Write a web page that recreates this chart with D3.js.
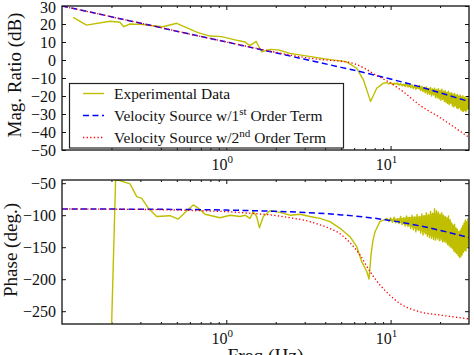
<!DOCTYPE html>
<html>
<head>
<meta charset="utf-8">
<script src="https://cdn.jsdelivr.net/npm/d3@7"></script>
<style>
  html, body { margin: 0; padding: 0; background: #fff; }
  svg { display: block; }
  text { font-family: "Liberation Serif", "Times New Roman", serif; fill: #111; }
</style>
</head>
<body>
<div id="chart"></div>
<script>
// ---------------- DATA ----------------
// Magnitude (dB) panel
const expMagFreq = [0.117, 0.141, 0.196, 0.225, 0.238, 0.259, 0.298, 0.412, 0.499, 0.673, 0.796, 0.937,
  1.18, 1.30, 1.39, 1.52, 1.64, 1.85, 2.07, 2.44, 4.28, 5.36, 6.22, 6.83, 7.55, 7.79, 8.23, 9.0];
const expMagVal = [23.7, 19.4, 21.5, 21.0, 18.5, 20.0, 19.8, 18.5, 20.4, 15.2, 13.3, 13.0,
  10.8, 10.0, 8.0, 10.3, 4.6, 5.9, 5.6, 3.7, 0.2, -0.9, -4.6, -11.0, -23.0, -20.4, -15.7, -13.0];

// Noisy high-frequency part of the experimental data (shared frequencies, Hz)
const noiseFreq = [9.5, 9.75, 10, 10.25, 10.5, 10.75, 11, 11.25,
  11.5, 11.75, 12, 12.25, 12.5, 12.75, 13, 13.25,
  13.5, 13.75, 14, 14.25, 14.5, 14.75, 15, 15.25,
  15.5, 15.75, 16, 16.25, 16.5, 16.75, 17, 17.25,
  17.5, 17.75, 18, 18.25, 18.5, 18.75, 19, 19.25,
  19.5, 19.75, 20, 20.25, 20.5, 20.75, 21, 21.25,
  21.5, 21.75, 22, 22.25, 22.5, 22.75, 23, 23.25,
  23.5, 23.75, 24, 24.25, 24.5, 24.75, 25, 25.25,
  25.5, 25.75, 26, 26.25, 26.5, 26.75, 27, 27.25,
  27.5, 27.75, 28, 28.25, 28.5, 28.75, 29, 29.25,
  29.5, 29.75, 30];
const noiseMag = [-12.5, -13.3, -12.6, -13.5, -12.9, -13.2, -12.7, -14.0,
  -13.1, -14.4, -13.4, -14.8, -13.0, -15.0, -13.9, -15.4,
  -13.8, -15.9, -14.2, -16.3, -14.6, -15.8, -14.1, -17.0,
  -14.5, -17.6, -15.3, -18.2, -14.9, -18.9, -15.8, -19.1,
  -15.2, -20.0, -16.1, -19.4, -15.6, -20.8, -16.4, -21.0,
  -15.9, -21.6, -16.8, -22.4, -16.2, -21.9, -17.3, -23.0,
  -17.0, -23.6, -17.9, -24.2, -17.4, -24.8, -18.5, -24.0,
  -18.2, -25.5, -19.0, -26.1, -18.6, -25.4, -19.5, -26.6,
  -19.2, -27.0, -20.1, -26.4, -19.4, -27.6, -20.5, -28.2,
  -19.9, -28.6, -20.8, -27.9, -20.2, -28.8, -21.4, -27.5,
  -21.0, -26.8, -22.5];
const noisePhase = [-105, -110, -104, -111, -103, -112, -105, -113,
  -102, -115, -104, -117, -101, -118, -103, -121,
  -100, -123, -103, -126, -99, -124, -102, -128,
  -98, -131, -101, -129, -96, -133, -99, -135,
  -94, -136, -97, -138, -90, -139, -93, -137,
  -95, -140, -98, -139, -96, -142, -100, -141,
  -102, -143, -104, -146, -101, -148, -107, -150,
  -112, -152, -116, -156, -114, -158, -120, -160,
  -122, -163, -126, -166, -124, -165, -120, -162,
  -116, -158, -112, -155, -108, -156, -110, -150,
  -106, -148, -118];

// Inner envelope of the dense noisy band (Hz, upper/lower values)
const bandFreq = [10, 11, 12, 13, 14, 15, 16, 17, 18, 19, 20, 21, 22, 23, 24, 25, 26, 27, 28, 29, 30];
const bandMagHi = [-12.7, -13.0, -13.4, -13.9, -14.3, -14.7, -15.2, -15.7, -16.0, -16.5, -16.9, -17.4,
  -17.9, -18.4, -18.9, -19.4, -19.8, -20.3, -20.6, -21.1, -21.8];
const bandMagLo = [-13.2, -13.7, -14.3, -14.9, -15.6, -16.4, -17.3, -18.2, -19.0, -19.9, -20.8, -21.6,
  -22.7, -23.4, -24.5, -25.2, -26.0, -26.8, -27.4, -27.2, -25.8];
const bandPhHi = [-106, -105, -104, -103, -102, -102, -100, -100, -97, -96, -99, -101, -105, -108,
  -115, -120, -126, -123, -115, -112, -117];
const bandPhLo = [-109, -111, -114, -117, -121, -124, -127, -131, -134, -135, -136, -138, -142, -146,
  -151, -156, -161, -160, -153, -150, -140];

const firstMagFreq = [0.1, 0.2, 0.5, 1, 2, 3, 5, 7, 10, 15, 20, 25, 30];
const firstMagVal  = [30, 24, 16, 10, 4, 0.4, -4.1, -7.1, -10.6, -14.8, -18.2, -20.9, -23];

const secondMagFreq = [0.1, 0.2, 0.5, 1, 2, 3, 4, 5, 6, 7, 8, 9, 10, 12, 15, 20, 25, 30];
const secondMagVal  = [30, 24, 16, 10, 4.3, 1.4, 0, -0.7, -2, -4.8, -8, -10.5, -12.8, -17.8, -25, -32, -38, -43];

// Phase (deg.) panel
const expPhFreq = [0.2, 0.212, 0.2596, 0.285, 0.306, 0.335, 0.377, 0.454, 0.510, 0.574, 0.630, 0.676,
  0.742, 0.916, 1.053, 1.211, 1.30, 1.394, 1.46, 1.53, 1.59, 1.68, 1.845, 2.12, 2.44, 2.81, 3.23,
  3.72, 4.28, 4.92, 5.66, 6.22, 6.67, 7.16, 7.39, 7.60, 7.79, 8.04, 8.61, 9.2];
const expPhVal = [-280, -44, -51, -71, -73.6, -89, -102, -100.8, -106, -93.4, -84, -89,
  -98.6, -104, -100, -102, -100, -105, -94.5, -102, -119.5, -102, -93, -95.5, -100, -98.6, -102,
  -105, -110, -120.5, -133.6, -149, -172.6, -188, -199.7, -162, -141, -125.8, -110, -107];

const firstPhFreq = [0.1, 0.5, 1, 2, 3, 5, 7, 10, 15, 20, 25, 30];
const firstPhVal  = [-90.3, -91, -92, -94, -95.7, -99.5, -103, -108.4, -116.6, -123.7, -129.8, -135];

const secondPhFreq = [0.1, 0.3, 0.6, 1, 1.4, 2, 2.44, 3, 3.72, 4.28, 4.92, 5.66, 6.51, 7.49, 8.61,
  9.91, 11.4, 15.1, 20, 30];
const secondPhVal  = [-90.3, -91, -92.5, -94.5, -97, -100.5, -104, -108, -115, -121, -129, -143,
  -162, -188, -209, -225, -238, -251, -256, -262];

// Axis ticks and labels
const magTicks = [30, 20, 10, 0, -10, -20, -30, -40, -50];
const phaseTicks = [-50, -100, -150, -200, -250];
const freqMajor = [1, 10];
const freqMajorExp = ["0", "1"];
const freqMinor = [0.2, 0.3, 0.4, 0.5, 0.6, 0.7, 0.8, 0.9, 2, 3, 4, 5, 6, 7, 8, 9, 20];
const legendLabels = [
  ["Experimental Data"],
  ["Velocity Source w/1", "st", " Order Term"],
  ["Velocity Source w/2", "nd", " Order Term"]
];
const magLabel = "Mag. Ratio (dB)";
const phaseLabel = "Phase (deg.)";
const freqLabel = "Freq (Hz)";

// ---------------- DRAWING ----------------
const W = 474, H = 355;
const X0 = 62, X1 = 469;
const topPanel = {y0: 6, y1: 150};
const botPanel = {y0: 180, y1: 324};
const YELLOW = "#bfbf00", BLUE = "#0000ff", RED = "#ff0000";

const svg = d3.select("#chart").append("svg").attr("width", W).attr("height", H);

const x = d3.scaleLog().domain([0.1, 30]).range([X0, X1]);
const yMag = d3.scaleLinear().domain([-50, 30]).range([topPanel.y1, topPanel.y0]);
const yPh = d3.scaleLinear().domain([-270, -45]).range([botPanel.y1, botPanel.y0]);

function zip(fs, vs) { return fs.map((f, i) => [f, vs[i]]); }

// scale a text's font size so that its rendered width matches a target
function fitWidth(sel, target) {
  const w = sel.node().getBBox().width;
  if (w > 0) {
    const k = target / w;
    sel.attr("font-size", +sel.attr("font-size") * k);
    sel.selectAll("tspan[font-size]").each(function () {
      const t = d3.select(this); t.attr("font-size", +t.attr("font-size") * k);
    });
  }
  return sel;
}

function panel(id, p, y, ticks) {
  const defs = svg.append("defs");
  defs.append("clipPath").attr("id", id).append("rect")
    .attr("x", X0).attr("y", p.y0).attr("width", X1 - X0).attr("height", p.y1 - p.y0);
  const g = svg.append("g");
  const la = g.append("g").attr("transform", `translate(${X0},0)`)
    .call(d3.axisLeft(y).tickValues(ticks).tickSize(-4).tickPadding(6));
  const ra = g.append("g").attr("transform", `translate(${X1},0)`)
    .call(d3.axisRight(y).tickValues(ticks).tickSize(-4).tickFormat(""));
  const bm = g.append("g").attr("transform", `translate(0,${p.y1})`)
    .call(d3.axisBottom(x).tickValues(freqMajor).tickSize(-4).tickFormat(""));
  const bn = g.append("g").attr("transform", `translate(0,${p.y1})`)
    .call(d3.axisBottom(x).tickValues(freqMinor).tickSize(-2).tickFormat(""));
  const tm = g.append("g").attr("transform", `translate(0,${p.y0})`)
    .call(d3.axisTop(x).tickValues(freqMajor).tickSize(-4).tickFormat(""));
  const tn = g.append("g").attr("transform", `translate(0,${p.y0})`)
    .call(d3.axisTop(x).tickValues(freqMinor).tickSize(-2).tickFormat(""));
  [la, ra, bm, bn, tm, tn].forEach(a => {
    a.select(".domain").remove();
    a.selectAll("line").attr("stroke", "#111").attr("stroke-width", 1);
  });
  la.selectAll("text").attr("font-size", 16).attr("font-family", "Liberation Serif").attr("fill", "#111")
    .attr("dy", d => (y(d) - p.y0 < 3 ? "0.42em" : "0.32em"));
  freqMajor.forEach((f, i) => {
    const t = g.append("text").attr("x", x(f) - 4).attr("y", p.y1 + 20)
      .attr("text-anchor", "middle").attr("font-size", 16);
    t.append("tspan").text("10");
    t.append("tspan").attr("dy", -7).attr("font-size", 11).text(freqMajorExp[i]);
  });
  const plot = svg.append("g").attr("clip-path", `url(#${id})`);
  return {g, plot};
}

const line = (y, curve) => d3.line().x(d => x(d[0])).y(d => y(d[1])).curve(curve);
const band = (y) => d3.area().x(d => x(d[0])).y0(d => y(d[1])).y1(d => y(d[2]));

function drawPanel(P, y, expData, bandData, first, second) {
  P.plot.append("path").datum(bandData).attr("d", band(y))
    .attr("fill", YELLOW).attr("fill-opacity", 0.85).attr("stroke", "none");
  P.plot.append("path").datum(expData).attr("d", line(y, d3.curveLinear))
    .attr("fill", "none").attr("stroke", YELLOW).attr("stroke-width", 1.4).attr("stroke-linejoin", "round");
  P.plot.append("path").datum(first).attr("d", line(y, d3.curveMonotoneX))
    .attr("fill", "none").attr("stroke", BLUE).attr("stroke-width", 1.5).attr("stroke-dasharray", "6,3.5");
  P.plot.append("path").datum(second).attr("d", line(y, d3.curveMonotoneX))
    .attr("fill", "none").attr("stroke", RED).attr("stroke-width", 1.3).attr("stroke-dasharray", "1.3,2.3");
}

const T = panel("clipTop", topPanel, yMag, magTicks);
drawPanel(T, yMag,
  zip(expMagFreq, expMagVal).concat(zip(noiseFreq, noiseMag)),
  bandFreq.map((f, i) => [f, bandMagHi[i], bandMagLo[i]]),
  zip(firstMagFreq, firstMagVal), zip(secondMagFreq, secondMagVal));

const B = panel("clipBot", botPanel, yPh, phaseTicks);
drawPanel(B, yPh,
  zip(expPhFreq, expPhVal).concat(zip(noiseFreq, noisePhase)),
  bandFreq.map((f, i) => [f, bandPhHi[i], bandPhLo[i]]),
  zip(firstPhFreq, firstPhVal), zip(secondPhFreq, secondPhVal));

// frames
[topPanel, botPanel].forEach(p => {
  svg.append("rect").attr("x", X0).attr("y", p.y0).attr("width", X1 - X0).attr("height", p.y1 - p.y0)
    .attr("fill", "none").attr("stroke", "#111").attr("stroke-width", 1.3);
});

// Legend
const lg = svg.append("g");
lg.append("rect").attr("x", 69.5).attr("y", 83.5).attr("width", 274).attr("height", 64.5)
  .attr("fill", "#fff").attr("stroke", "#222").attr("stroke-width", 1.2);
const legendStyles = [
  {c: YELLOW, w: 1.4, dash: null},
  {c: BLUE, w: 1.5, dash: "6,3.5"},
  {c: RED, w: 1.3, dash: "1.3,2.3"}
];
const legendTexts = [];
legendLabels.forEach((parts, i) => {
  const yy = 93.5 + i * 22;
  const s = legendStyles[i];
  lg.append("line").attr("x1", 83).attr("x2", 104).attr("y1", yy).attr("y2", yy)
    .attr("stroke", s.c).attr("stroke-width", s.w).attr("stroke-dasharray", s.dash);
  const t = lg.append("text").attr("x", 114).attr("y", yy + 5).attr("font-size", 16);
  t.append("tspan").text(parts[0]);
  if (parts.length > 1) {
    t.append("tspan").attr("dy", -6).attr("font-size", 11.5).text(parts[1]);
    t.append("tspan").attr("dy", 6).text(parts[2]);
  }
  legendTexts.push(t);
});
// fit the legend font so the second entry spans the same width as in the reference
{
  const w = legendTexts[1].node().getBBox().width;
  const k = 209 / w;
  legendTexts.forEach(t => {
    t.attr("font-size", 16 * k);
    t.selectAll("tspan[font-size]").attr("font-size", 11.5 * k);
  });
}

// Axis titles
fitWidth(svg.append("text").attr("transform", `translate(21,75) rotate(-90)`)
  .attr("text-anchor", "middle").attr("font-size", 18).text(magLabel), 125);
fitWidth(svg.append("text").attr("transform", `translate(17,250) rotate(-90)`)
  .attr("text-anchor", "middle").attr("font-size", 18).text(phaseLabel), 94);
fitWidth(svg.append("text").attr("x", (X0 + X1) / 2).attr("y", 362)
  .attr("text-anchor", "middle").attr("font-size", 18).text(freqLabel), 76);
</script>
</body>
</html>
